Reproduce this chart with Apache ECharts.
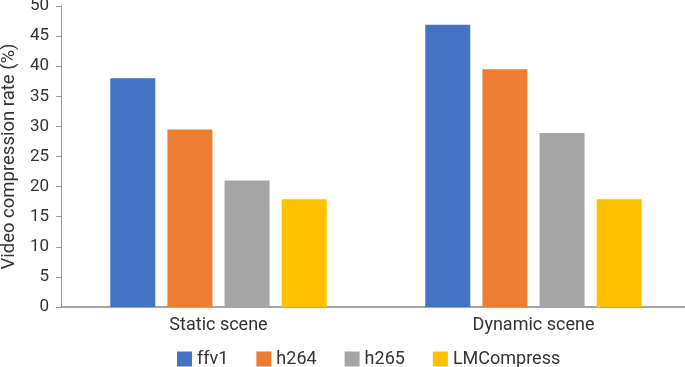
<!DOCTYPE html>
<html>
<head>
<meta charset="utf-8">
<script src="https://cdn.jsdelivr.net/npm/echarts@6/dist/echarts.min.js"></script>
<style>
  html, body { margin: 0; padding: 0; background: #fff; }
  #chart { width: 685px; height: 367px; }
</style>
</head>
<body>
<div id="chart"></div>
<script>
var scenes = ['Static scene', 'Dynamic scene'];
var methods = ['ffv1', 'h264', 'h265', 'LMCompress'];
var ffv1 = [38, 46.9];
var h264 = [29.5, 39.5];
var h265 = [21, 28.9];
var lmcompress = [17.9, 17.9];
var colors = ['#4472C4', '#ED7D31', '#A5A5A5', '#FFC000'];

var chart = echarts.init(document.getElementById('chart'));
var font = 'Roboto, "Noto Sans", sans-serif';

var seriesData = [ffv1, h264, h265, lmcompress];
var series = methods.map(function (name, i) {
    return {
        name: name,
        type: 'bar',
        data: seriesData[i],
        barWidth: 45,
        barGap: '27%',
        itemStyle: { color: colors[i] }
    };
});

var option = {
    animation: false,
    textStyle: { fontFamily: font },
    grid: { left: 61, right: -6, top: 6, bottom: 60, outerBoundsMode: 'none', containLabel: false },
    legend: {
        data: methods,
        left: 172,
        top: 345,
        icon: 'rect',
        itemWidth: 15,
        itemHeight: 15,
        itemGap: 28,
        textStyle: { fontSize: 18, color: '#333', fontFamily: font }
    },
    xAxis: {
        type: 'category',
        data: scenes,
        axisTick: { show: false },
        axisLine: { lineStyle: { color: '#888', width: 1.5 } },
        axisLabel: { fontSize: 18, color: '#333', margin: 9 }
    },
    yAxis: {
        type: 'value',
        min: 0,
        max: 50,
        interval: 5,
        name: 'Video compression rate (%)',
        nameLocation: 'middle',
        nameGap: 41,
        nameTextStyle: { fontSize: 18.5, color: '#333' },
        splitLine: { show: false },
        axisLine: { show: true, lineStyle: { color: '#999' } },
        axisTick: { show: true, length: 5, lineStyle: { color: '#999' } },
        axisLabel: { fontSize: 17, color: '#333', margin: 12 }
    },
    series: series
};

chart.setOption(option);
</script>
</body>
</html>
